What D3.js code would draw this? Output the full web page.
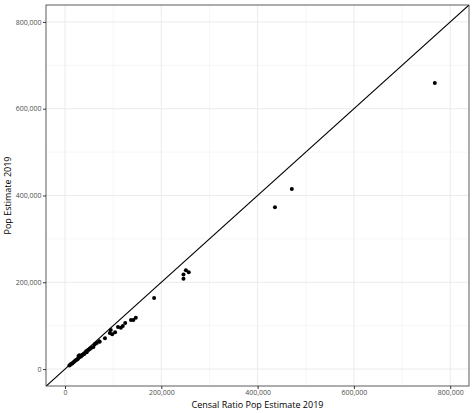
<!DOCTYPE html><html><head><meta charset="utf-8"><script src="https://cdn.jsdelivr.net/npm/d3@7"></script>
<style>body{margin:0;background:#fff}</style></head><body><svg id="c" width="474" height="413"></svg>
<script>
const censal=[768000,471000,436000,246000,246000,251000,257000,185000,147000,142000,137000,125000,120000,116000,104000,95000,93000,98000,83000,71000,66000,62000,59000,55000,50000,48000,45000,42000,40000,38000,35000,33000,30000,28000,27000,25000,23000,21000,19000,17000,15000,13000,11000,9000,30000,36000,44000,52000,72000,110000];
const popEst=[659000,415000,373000,218000,208000,228000,223000,164000,118000,113000,113000,106000,99000,95000,85000,90000,83000,80000,71000,64000,60000,57000,51000,49000,45000,44000,39000,38000,35000,34000,31000,29000,27000,30000,24000,22000,21000,19000,17000,15000,13000,12000,10000,8000,32000,33000,41000,47000,63000,97000];
const ticks=[0,200000,400000,600000,800000];
const svg=d3.select("#c");
const L=46,R=469,T=5,B=386;
const x=d3.scaleLinear().domain([-39500,839000]).range([L,R]);
const y=d3.scaleLinear().domain([-39000,839000]).range([B,T]);
const fmt=d3.format(",");
svg.append("clipPath").attr("id","cp").append("rect").attr("x",L).attr("y",T).attr("width",R-L).attr("height",B-T);
const minor=[100000,300000,500000,700000];
const g=svg.append("g");
minor.forEach(v=>{g.append("line").attr("x1",x(v)).attr("x2",x(v)).attr("y1",T).attr("y2",B).attr("stroke","#f0f0f0").attr("stroke-width",0.6);
g.append("line").attr("y1",y(v)).attr("y2",y(v)).attr("x1",L).attr("x2",R).attr("stroke","#f0f0f0").attr("stroke-width",0.6);});
ticks.forEach(v=>{g.append("line").attr("x1",x(v)).attr("x2",x(v)).attr("y1",T).attr("y2",B).attr("stroke","#ebebeb").attr("stroke-width",1);
g.append("line").attr("y1",y(v)).attr("y2",y(v)).attr("x1",L).attr("x2",R).attr("stroke","#ebebeb").attr("stroke-width",1);});
svg.append("line").attr("clip-path","url(#cp)").attr("x1",x(-40000)).attr("y1",y(-40000)).attr("x2",x(840000)).attr("y2",y(840000)).attr("stroke","#000").attr("stroke-width",1.1);
svg.append("g").selectAll("circle").data(censal).join("circle").attr("cx",d=>x(d)).attr("cy",(d,i)=>y(popEst[i])).attr("r",2).attr("fill","#000");
svg.append("rect").attr("x",L).attr("y",T).attr("width",R-L).attr("height",B-T).attr("fill","none").attr("stroke","#333").attr("stroke-width",0.8);
const xa=svg.append("g").attr("transform",`translate(0,${B})`).call(d3.axisBottom(x).tickValues(ticks).tickFormat(fmt).tickSize(3).tickPadding(1.5));
const ya=svg.append("g").attr("transform",`translate(${L},0)`).call(d3.axisLeft(y).tickValues(ticks).tickFormat(fmt).tickSize(3).tickPadding(1.5));
[xa,ya].forEach(a=>{a.style("color","#4d4d4d");a.select(".domain").remove();a.selectAll("line").attr("stroke","#333");a.selectAll("text").attr("fill","#4d4d4d").style("font-family","Open Sans").style("font-size","7px");});
svg.append("text").attr("x",(L+R)/2).attr("y",408).attr("text-anchor","middle").style("font-family","Open Sans").style("font-size","9px").text("Censal Ratio Pop Estimate 2019");
svg.append("text").attr("transform",`translate(11,${(T+B)/2}) rotate(-90)`).attr("text-anchor","middle").style("font-family","Open Sans").style("font-size","9px").text("Pop Estimate 2019");
</script></body></html>
